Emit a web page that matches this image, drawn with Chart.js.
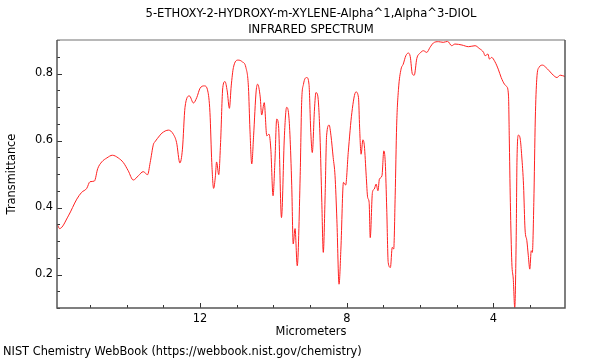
<!DOCTYPE html>
<html>
<head>
<meta charset="utf-8">
<script src="https://cdn.jsdelivr.net/npm/chart.js@4.4.0/dist/chart.umd.min.js"></script>
<style>
  html, body { margin: 0; padding: 0; background: #fff; }
  #wrap { width: 600px; height: 360px; }
</style>
</head>
<body>
<div id="wrap"><canvas id="spectrum" width="600" height="360"></canvas></div>
<script>
// Wavelength (micrometers) and transmittance
const micrometers = [
  15.88, 15.83, 15.59, 15.36, 15.23, 15.09, 15.00, 14.88, 14.79, 14.68,
  14.54, 14.39, 14.23, 14.09, 13.96, 13.82, 13.68, 13.55, 13.43, 13.36,
  13.27, 13.23, 13.09, 13.04, 12.86, 12.73, 12.64, 12.55, 12.48, 12.41,
  12.29, 12.18, 12.09, 12.00, 11.88, 11.79, 11.73, 11.68, 11.63, 11.58,
  11.55, 11.49, 11.44, 11.38, 11.32, 11.26, 11.20, 11.15, 11.09, 10.96,
  10.85, 10.75, 10.68, 10.64, 10.59, 10.54, 10.47, 10.43, 10.36, 10.32,
  10.25, 10.18, 10.12, 10.07, 10.01, 9.96, 9.91, 9.86, 9.78, 9.70,
  9.64, 9.59, 9.55, 9.50, 9.46, 9.41, 9.35, 9.27, 9.23, 9.18,
  9.09, 9.03, 8.98, 8.94, 8.88, 8.84, 8.79, 8.73, 8.68, 8.64,
  8.59, 8.55, 8.48, 8.43, 8.37, 8.32, 8.27, 8.21, 8.16, 8.09,
  8.03, 7.96, 7.86, 7.75, 7.68, 7.65, 7.61, 7.56, 7.52, 7.47,
  7.43, 7.39, 7.36, 7.30, 7.25, 7.20, 7.15, 7.11, 7.04, 6.99,
  6.95, 6.91, 6.87, 6.81, 6.76, 6.72, 6.68, 6.64, 6.59, 6.52,
  6.46, 6.39, 6.32, 6.27, 6.21, 6.16, 6.09, 6.00, 5.91, 5.82,
  5.73, 5.64, 5.50, 5.37, 5.25, 5.14, 5.05, 4.86, 4.68, 4.50,
  4.39, 4.27, 4.23, 4.15, 4.11, 4.05, 3.96, 3.87, 3.79, 3.70,
  3.64, 3.59, 3.57, 3.54, 3.50, 3.46, 3.42, 3.38, 3.36, 3.32,
  3.27, 3.23, 3.18, 3.14, 3.09, 3.05, 3.01, 2.97, 2.94, 2.90,
  2.86, 2.82, 2.76, 2.66, 2.57, 2.48, 2.37, 2.27, 2.18, 2.05
];
const transmittance = [
  0.347, 0.337, 0.375, 0.425, 0.445, 0.457, 0.477, 0.479, 0.516, 0.536,
  0.548, 0.556, 0.548, 0.534, 0.510, 0.482, 0.495, 0.507, 0.498, 0.534,
  0.589, 0.596, 0.616, 0.622, 0.631, 0.619, 0.594, 0.533, 0.574, 0.699,
  0.733, 0.712, 0.728, 0.756, 0.763, 0.748, 0.684, 0.534, 0.457, 0.495,
  0.536, 0.498, 0.594, 0.758, 0.776, 0.748, 0.696, 0.763, 0.818, 0.840,
  0.835, 0.818, 0.758, 0.634, 0.530, 0.614, 0.748, 0.768, 0.730, 0.676,
  0.713, 0.614, 0.619, 0.574, 0.435, 0.534, 0.664, 0.644, 0.370, 0.614,
  0.699, 0.684, 0.619, 0.465, 0.291, 0.337, 0.226, 0.495, 0.713, 0.768,
  0.788, 0.768, 0.624, 0.564, 0.694, 0.743, 0.733, 0.614, 0.415, 0.266,
  0.435, 0.614, 0.646, 0.614, 0.549, 0.495, 0.365, 0.171, 0.276, 0.475,
  0.467, 0.564, 0.684, 0.745, 0.728, 0.640, 0.559, 0.602, 0.584, 0.495,
  0.430, 0.415, 0.310, 0.445, 0.455, 0.470, 0.450, 0.485, 0.495, 0.569,
  0.534, 0.395, 0.236, 0.221, 0.281, 0.276, 0.435, 0.644, 0.753, 0.813,
  0.828, 0.853, 0.861, 0.851, 0.798, 0.795, 0.845, 0.861, 0.868, 0.863,
  0.878, 0.891, 0.895, 0.893, 0.896, 0.883, 0.888, 0.885, 0.880, 0.883,
  0.875, 0.863, 0.853, 0.858, 0.843, 0.848, 0.835, 0.813, 0.788, 0.768,
  0.761, 0.733, 0.614, 0.415, 0.236, 0.186, 0.101, 0.316, 0.534, 0.616,
  0.604, 0.554, 0.465, 0.336, 0.301, 0.256, 0.216, 0.271, 0.266, 0.415,
  0.664, 0.783, 0.818, 0.825, 0.818, 0.808, 0.795, 0.788, 0.795, 0.791
];

const xTickLabels = [4, 8, 12];
const yTickLabels = [0.2, 0.4, 0.6, 0.8];
const titleLines = ['5-ETHOXY-2-HYDROXY-m-XYLENE-Alpha^1,Alpha^3-DIOL', 'INFRARED SPECTRUM'];
const footerText = 'NIST Chemistry WebBook (https://webbook.nist.gov/chemistry)';

const FONT = "'DejaVu Sans', sans-serif";
const SIZE = 11.4;
const isLabelled = (list, v) => list.some(l => Math.abs(l - v) < 1e-6);

// frame, inward tick marks, title and footer
const framePlugin = {
  id: 'framePlugin',
  afterDatasetsDraw(chart) {
    const {ctx, chartArea: a, scales: {x, y}} = chart;
    ctx.save();

    ctx.strokeStyle = '#333';
    ctx.lineWidth = 1;
    x.ticks.forEach(t => {
      const px = Math.round(x.getPixelForValue(t.value)) + 0.5;
      const len = isLabelled(xTickLabels, t.value) ? 5 : 3;
      ctx.beginPath();
      ctx.moveTo(px, a.bottom);
      ctx.lineTo(px, a.bottom - len);
      ctx.stroke();
    });
    y.ticks.forEach(t => {
      const py = Math.round(y.getPixelForValue(t.value)) + 0.5;
      const len = isLabelled(yTickLabels, t.value) ? 5 : 3;
      ctx.beginPath();
      ctx.moveTo(a.left, py);
      ctx.lineTo(a.left + len, py);
      ctx.stroke();
    });

    // plot frame: lighter top edge, darker others
    ctx.lineWidth = 1.5;
    ctx.strokeStyle = '#a0a0a0';
    ctx.beginPath();
    ctx.moveTo(a.left, a.top);
    ctx.lineTo(a.right, a.top);
    ctx.stroke();
    ctx.strokeStyle = '#555';
    ctx.beginPath();
    ctx.moveTo(a.left, a.top);
    ctx.lineTo(a.left, a.bottom);
    ctx.lineTo(a.right, a.bottom);
    ctx.lineTo(a.right, a.top);
    ctx.stroke();

    ctx.fillStyle = '#000';
    ctx.textAlign = 'center';
    ctx.textBaseline = 'middle';
    const cx = (a.left + a.right) / 2;
    ctx.font = '11.6px ' + FONT;
    ctx.fillText(titleLines[0], cx, 14);
    ctx.fillText(titleLines[1], cx, 30);

    ctx.font = SIZE + 'px ' + FONT;
    ctx.textAlign = 'left';
    ctx.fillText(footerText, 3, 352);
    ctx.restore();
  }
};

new Chart(document.getElementById('spectrum'), {
  type: 'line',
  data: {
    datasets: [{
      data: micrometers.map((m, i) => ({x: m, y: transmittance[i]})),
      borderColor: '#ff2020',
      borderWidth: 1,
      pointRadius: 0,
      cubicInterpolationMode: 'monotone',
      fill: false
    }]
  },
  options: {
    responsive: false,
    animation: false,
    layout: { padding: { top: 40, right: 35, left: 0, bottom: 0 } },
    plugins: {
      legend: { display: false },
      tooltip: { enabled: false },
      title: { display: false }
    },
    scales: {
      x: {
        type: 'linear',
        reverse: true,
        min: 2.05,
        max: 15.9,
        grid: { display: false, drawTicks: false },
        border: { display: false },
        ticks: {
          stepSize: 1,
          includeBounds: false,
          autoSkip: false,
          maxRotation: 0,
          padding: 4,
          color: '#000',
          font: { family: FONT, size: SIZE },
          callback: v => isLabelled(xTickLabels, v) ? String(Math.round(v)) : ''
        },
        title: {
          display: true,
          text: 'Micrometers',
          color: '#000',
          font: { family: FONT, size: SIZE },
          padding: { top: 0, bottom: 21 }
        },
        afterFit(scale) { scale.height = 52; }
      },
      y: {
        min: 0.1,
        max: 0.9,
        grid: { display: false, drawTicks: false },
        border: { display: false },
        ticks: {
          stepSize: 0.05,
          includeBounds: false,
          autoSkip: false,
          padding: 4,
          color: '#000',
          font: { family: FONT, size: SIZE },
          callback: v => isLabelled(yTickLabels, v) ? v.toFixed(1) : ''
        },
        title: {
          display: true,
          text: 'Transmittance',
          color: '#000',
          font: { family: FONT, size: SIZE },
          padding: { top: 5, bottom: 0 }
        },
        afterFit(scale) { scale.width = 57; }
      }
    }
  },
  plugins: [framePlugin]
});
</script>
</body>
</html>
